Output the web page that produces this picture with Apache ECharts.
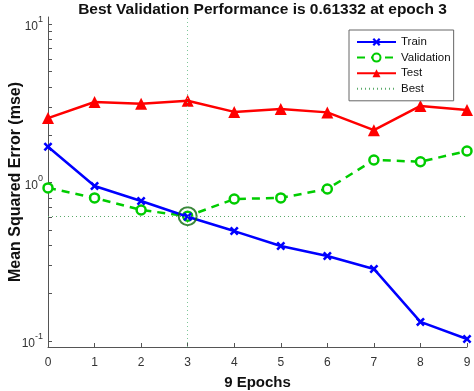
<!DOCTYPE html>
<html>
<head>
<meta charset="utf-8">
<script src="https://cdn.jsdelivr.net/npm/echarts@6/dist/echarts.min.js"></script>
<style>html,body{margin:0;padding:0;background:#fff}#c{width:474px;height:391px}</style>
</head>
<body>
<div id="c"></div>
<script>
var epochs = [0, 1, 2, 3, 4, 5, 6, 7, 8, 9];
var trainMSE = [1.68, 0.95, 0.765, 0.608, 0.494, 0.398, 0.344, 0.285, 0.132, 0.103];
var validationMSE = [0.925, 0.80, 0.671, 0.61332, 0.787, 0.80, 0.91, 1.387, 1.353, 1.58];
var testMSE = [2.55, 3.22, 3.14, 3.28, 2.79, 2.91, 2.77, 2.14, 3.04, 2.87];
var bestEpoch = 3;
var bestPerf = 0.61332;
var xTickLabels = ['0','1','2','3','4','5','6','7','8','9'];
var yMajorTicks = [0.1, 1, 10];
var yMinorTicks = [0.1,0.2,0.3,0.4,0.5,0.6,0.7,0.8,0.9,1,2,3,4,5,6,7,8,9,10];
var yMin = 0.0917, yMax = 11.07;

function pairs(vals){ return epochs.map(function(e,i){ return [e, vals[i]]; }); }
var xPath = 'path://M2,0 L5,3 L8,0 L10,2 L7,5 L10,8 L8,10 L5,7 L2,10 L0,8 L3,5 L0,2 Z';
var font = 'Liberation Sans, Arial, sans-serif';
var bestColor = '#5aaa6a';

var chart = echarts.init(document.getElementById('c'));
chart.setOption({
  animation: false,
  textStyle: {fontFamily: font},
  title: {
    text: 'Best Validation Performance is ' + bestPerf + ' at epoch ' + bestEpoch,
    left: 257.5, textAlign: 'center', top: -3,
    textStyle: {fontSize: 15.5, fontWeight: 'bold', color: '#111', fontFamily: font}
  },
  legend: {
    data: ['Train', 'Validation', 'Test', {name: 'Best', itemStyle: {opacity: 0}}],
    orient: 'vertical', left: 349, top: 30,
    itemWidth: 39, itemHeight: 10, itemGap: 3.6,
    padding: [6, 3, 6, 7],
    borderColor: '#666', borderWidth: 1, backgroundColor: '#fff',
    textStyle: {fontSize: 11.5, color: '#111', fontFamily: font}
  },
  grid: {left: 48, right: 7, top: 17, bottom: 44, containLabel: false, outerBoundsMode: 'none'},
  xAxis: {
    type: 'value', min: 0, max: 9, interval: 1,
    name: '9 Epochs', nameLocation: 'middle', nameGap: 28,
    nameTextStyle: {fontSize: 15, fontWeight: 'bold', color: '#111'},
    axisLine: {onZero: false, lineStyle: {color: '#555'}},
    axisTick: {inside: true, length: 4, lineStyle: {color: '#555'}},
    axisLabel: {fontSize: 12, color: '#333', margin: 10,
      formatter: function(v){ return xTickLabels[v]; }},
    splitLine: {show: false}
  },
  yAxis: {
    type: 'log', logBase: 10, min: yMin, max: yMax,
    name: 'Mean Squared Error (mse)', nameLocation: 'middle', nameGap: 24, nameMoveOverlap: false,
    nameTextStyle: {fontSize: 16, fontWeight: 'bold', color: '#111'},
    axisLine: {show: true, onZero: false, lineStyle: {color: '#555'}},
    axisTick: {show: true, inside: true, length: 4, lineStyle: {color: '#555'}, customValues: yMinorTicks},
    axisLabel: {
      customValues: yMajorTicks, margin: 5,
      formatter: function(v){ var e = Math.round(Math.log10(v)); return '{b|10}{s|' + e + '}'; },
      rich: {
        b: {fontSize: 12, color: '#333', verticalAlign: 'bottom', lineHeight: 18},
        s: {fontSize: 9, color: '#333', verticalAlign: 'top', lineHeight: 18}
      }
    },
    splitLine: {show: false}
  },
  series: [
    {
      name: 'Train', type: 'line', data: pairs(trainMSE),
      symbol: xPath, symbolSize: 9,
      lineStyle: {color: '#0000ff', width: 2.5},
      itemStyle: {color: '#0000ff'}, z: 3
    },
    {
      name: 'Validation', type: 'line', data: pairs(validationMSE),
      symbol: 'circle', symbolSize: 9, showSymbol: true,
      lineStyle: {color: '#00cc00', width: 2.5, type: [8, 6]},
      itemStyle: {color: '#ffffff', borderColor: '#00cc00', borderWidth: 2.5}, z: 2
    },
    {
      name: 'Test', type: 'line', data: pairs(testMSE),
      symbol: 'triangle', symbolSize: 12,
      lineStyle: {color: '#ff0000', width: 2.5},
      itemStyle: {color: '#ff0000'}, z: 2
    },
    {
      name: 'Best', type: 'line', data: [],
      symbol: 'none',
      lineStyle: {color: bestColor, width: 1, type: [1, 3]},
      itemStyle: {color: bestColor},
      markLine: {
        silent: true, symbol: 'none', label: {show: false},
        lineStyle: {color: bestColor, width: 1, type: [1, 3], opacity: 1},
        data: [
          {xAxis: bestEpoch, lineStyle: {color: '#7fc89a', width: 1, type: [1, 3]}},
          {yAxis: bestPerf, lineStyle: {color: bestColor, width: 1, type: [1, 3]}}
        ]
      }, z: 1
    },
    {
      name: 'BestPoint', type: 'scatter', data: [[bestEpoch, bestPerf]],
      symbol: 'circle', symbolSize: 18,
      itemStyle: {color: 'rgba(0,0,0,0)', borderColor: '#0a6a0a', borderWidth: 2}, z: 4
    }
  ]
});
</script>
</body>
</html>
